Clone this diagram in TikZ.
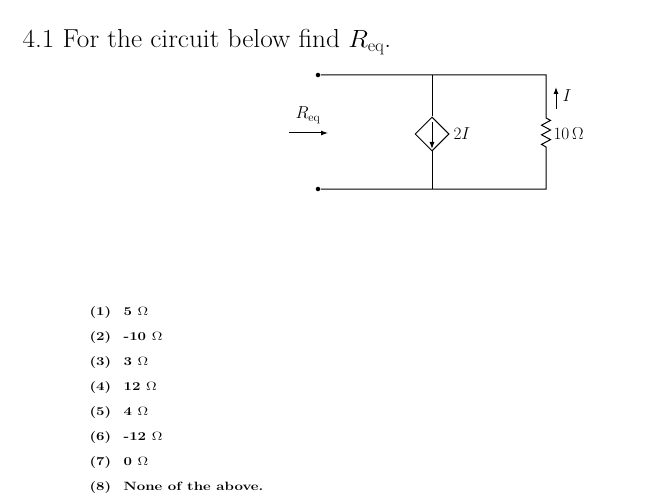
\documentclass[tikz,border=0pt]{standalone}
\usetikzlibrary{arrows.meta,shapes.geometric}
\begin{document}
\begin{tikzpicture}[x=1pt,y=-1pt,line width=1pt,
  term/.style={circle,fill,inner sep=1.6pt},
  opt/.style={anchor=base west,inner sep=0pt,font=\fontsize{12}{14}\selectfont\bfseries,xscale=1.25,transform shape},
  lbl/.style={inner sep=0pt,font=\fontsize{17}{20}\selectfont},
  arr/.style={-{Latex[length=7pt,width=5pt]}}]
\useasboundingbox (0,0) rectangle (648,500);
\node[anchor=base west,inner sep=0pt,font=\fontsize{26}{30}\selectfont,xscale=1.05,transform shape] (title) at (22,48) {4.1 For the circuit below find $R_{\mathrm{eq}}$.};
\node[term] (t1) at (318,75) {};
\node[term] (t2) at (318,189) {};
\coordinate (a) at (432,75); \coordinate (b) at (546,75);
\coordinate (c) at (432,189); \coordinate (d) at (546,189);
\draw (t1) -- (a) -- (b) -- (546,118)
  -- (550.5,120.4) -- (541.5,125.2) -- (550.5,130) -- (541.5,134.8) -- (550.5,139.6) -- (541.5,144.4) -- (546,147)
  -- (d) -- (c) -- (t2);
\node[draw,diamond,minimum width=34pt,minimum height=34pt,inner sep=0pt] (ds) at (432,134) {};
\draw (a) -- (ds.north) (ds.south) -- (c);
\draw[arr] (432,122) -- (432,149);
\node[lbl,anchor=west] (l2i) at (453,134) {$2I$};
\node[lbl,anchor=west] (lr) at (553,134) {$10\,\Omega$};
\draw[arr] (556,109) -- (556,87);
\node[lbl,anchor=west] (li) at (562,96) {$I$};
\node[lbl] (lreq) at (308,115) {$R_{\mathrm{eq}}$};
\draw[arr] (289,133) -- (328,133);
\foreach \i/\t [count=\k] in {1/5 $\Omega$,2/-10 $\Omega$,3/3 $\Omega$,4/12 $\Omega$,5/4 $\Omega$,6/-12 $\Omega$,7/0 $\Omega$,8/None of the above.}{
  \node[opt] (n\k) at (89,{315+25*(\k-1)}) {(\i)};
  \node[opt] (v\k) at (123,{315+25*(\k-1)}) {\t};
}
\end{tikzpicture}
\end{document}
